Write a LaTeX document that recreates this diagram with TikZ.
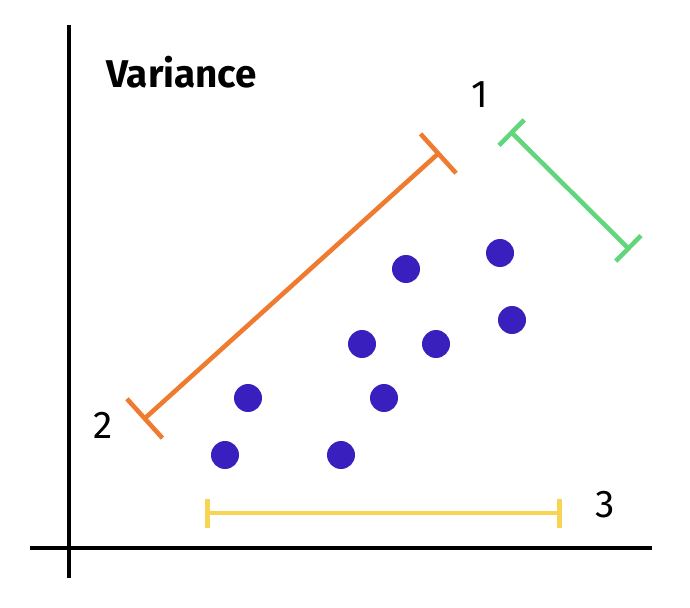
\documentclass[tikz,border=0pt]{standalone}
\usepackage{fontspec}
\setmainfont{Fira Sans}
\usetikzlibrary{arrows.meta}
\definecolor{dotblue}{HTML}{3A1FBF}
\definecolor{barorange}{HTML}{EE7B30}
\definecolor{bargreen}{HTML}{62D67C}
\definecolor{baryellow}{HTML}{F7D552}

\begin{document}
\begin{tikzpicture}[x=0.02cm, y=-0.02cm,
    axis/.style={line width=2.8pt},
    pt/.style={circle, fill=dotblue, inner sep=0, minimum size=0.56cm},
    bar/.style={line width=2.6pt},
    lbl/.style={font=\fontsize{22}{26}\selectfont, inner sep=0}
  ]
    \useasboundingbox (0,0) rectangle (690,608);
    % axes
    \coordinate (ytop) at (69,25);
    \coordinate (ybot) at (69,578);
    \coordinate (xl) at (30,548);
    \coordinate (xr) at (652,548);
    \draw[axis] (ytop) -- (ybot);
    \draw[axis] (xl) -- (xr);
    \node[lbl, font=\fontsize{22}{26}\selectfont\bfseries, anchor=west] (title) at (106,72) {Variance};
    % data
    \foreach \n/\x/\y in {a/406/269, b/500/253, c/512/320, d/362/344, e/436/344,
                          f/248/398, g/384/398, h/225/455, i/341/455}
      \node[pt] (p\n) at (\x,\y) {};
    % spreads
    \coordinate (g1) at (510,131);
    \coordinate (g2) at (630,250);
    \coordinate (o1) at (440,152);
    \coordinate (o2) at (143,420);
    \coordinate (y1) at (205,513);
    \coordinate (y2) at (562,513);
    \draw[bar, bargreen, {Bar[width=0.72cm]}-{Bar[width=0.72cm]}] (g1) -- (g2);
    \draw[bar, barorange, {Bar[width=1.06cm]}-{Bar[width=1.06cm]}] (o1) -- (o2);
    \draw[bar, baryellow, {Bar[width=0.58cm]}-{Bar[width=0.58cm]}] (y1) -- (y2);
    \node[lbl] (one) at (480,95) {1};
    \node[lbl] (two) at (103,425) {2};
    \node[lbl] (three) at (605,505) {3};
  \end{tikzpicture}
\end{document}
